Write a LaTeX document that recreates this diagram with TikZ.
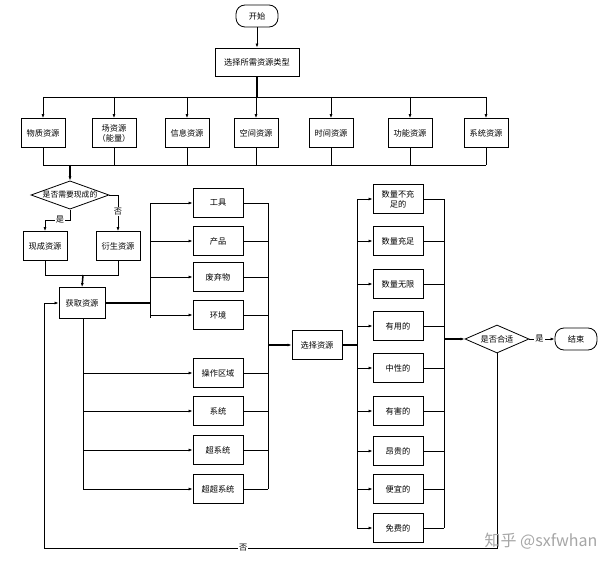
\documentclass[tikz,border=0pt]{standalone}
\usepackage{fontspec}
\setmainfont{Noto Sans CJK SC}
\usetikzlibrary{shapes.geometric,arrows.meta}
\begin{document}
\begin{tikzpicture}[x=1pt,y=-1pt,font=\fontsize{8.2}{10}\selectfont,
  box/.style={draw,line width=0.8pt,minimum width=#1,minimum height=29pt,inner sep=1pt,align=center},
  box/.default=44pt,
  term/.style={draw,rounded corners=9pt,line width=0.8pt,minimum width=42pt,minimum height=22pt},
  dec/.style={draw,diamond,aspect=2.6,line width=0.8pt,inner sep=0pt,minimum width=#1,minimum height=28pt},
  ln/.style={line width=0.7pt},
  ar/.style={ln,-{Latex[length=4pt,width=3pt]}},
  thk/.style={line width=1.5pt}]
\useasboundingbox (0,0) rectangle (600,567);
\node[term] (start) at (257,16) {开始};
\node[box=84pt,minimum height=28pt] (type) at (257,62) {选择所需资源类型};
\foreach \n/\x/\t in {r1/43/物质资源,r2/114/{场资源\\（能量）},r3/187/信息资源,r4/256/空间资源,r5/331/时间资源,r6/410/功能资源,r7/486/系统资源}
  \node[box] (\n) at (\x,133) {\t};
\draw[ar] (start) -- (type);
\draw[thk] (type.south) -- (257,97);
\draw[ln] (43,97) -- (486,97);
\foreach \n in {r1,r2,r3,r4,r5,r6,r7}{
  \draw[ar] (\n.north|-0,97) -- (\n.north);
  \draw[ln] (\n.south) -- (\n.south|-0,165);}
\draw[ln] (43,165) -- (486,165);
\node[dec=78pt,font=\fontsize{7.8}{9}\selectfont] (need) at (70,195) {是否需要现成的};
\draw[ar,thk] (70,165) -- (need.north);
\node[box] (ready) at (45,246) {现成资源};
\node[box] (deriv) at (118,246) {衍生资源};
\draw[ar] (need.south) -- (70,220) -- node[pos=0.4,fill=white,inner sep=1pt]{是} (45,220) -- (ready.north);
\draw[ar] (need.east) -- (118,195) -- node[pos=0.45,fill=white,inner sep=1pt]{否} (deriv.north);
\node[box=46pt,minimum height=31pt] (get) at (82,303) {获取资源};
\draw[ln] (ready.south) -- (45,275) -- (118,275) -- (deriv.south);
\draw[ar,thk] (83,275) -- (get.north);
\foreach \n/\y/\t in {a1/203/工具,a2/241/产品,a3/277/废弃物,a4/315/环境,a5/373/操作区域,a6/411/系统,a7/450/超系统,a8/489/超超系统}
  \node[box=50pt] (\n) at (218,\y) {\t};
\draw[thk] (get.east) -- (150,303);
\draw[ln] (150,203) -- (150,318);
\foreach \n in {a1,a2,a3,a4} \draw[ar] (150,0|-\n.west) -- (\n.west);
\draw[ln] (83,318) -- (83,489);
\foreach \n in {a5,a6,a7,a8} \draw[ar] (83,0|-\n.west) -- (\n.west);
\foreach \n in {a1,a2,a3,a4,a5,a6,a7,a8} \draw[ln] (\n.east) -- (268,0|-\n.east);
\draw[ln] (268,203) -- (268,489);
\node[box=50pt] (sel) at (317,345) {选择资源};
\draw[ar,thk] (268,345) -- (sel.west);
\draw[thk] (sel.east) -- (357,345);
\foreach \n/\y/\t in {b1/199/{数量不充\\足的},b2/241/数量充足,b3/284/数量无限,b4/326/有用的,b5/368/中性的,b6/411/有害的,b7/451/昂贵的,b8/489/便宜的,b9/528/免费的}
  \node[box=50pt] (\n) at (398,\y) {\t};
\draw[ln] (357,199) -- (357,528);
\foreach \n in {b1,b2,b3,b4,b5,b6,b7,b8,b9}{
  \draw[ar] (357,0|-\n.west) -- (\n.west);
  \draw[ln] (\n.east) -- (444,0|-\n.east);}
\draw[ln] (444,199) -- (444,528);
\node[dec=64pt] (ok) at (497,339) {是否合适};
\draw[ar,thk] (444,339) -- (ok.west);
\node[term] (end) at (576,339) {结束};
\draw[ar] (ok.east) -- node[pos=0.4,fill=white,inner sep=1pt]{是} (end.west);
\draw[ar] (ok.south) -- (497,548) -- node[pos=0.56,fill=white,inner sep=1pt]{否} (44,548) -- (44,303) -- (get.west);
\node[text=black!35,font=\fontsize{16}{18}\selectfont] (wm) at (541,541) {知乎 @sxfwhan};
\end{tikzpicture}
\end{document}
